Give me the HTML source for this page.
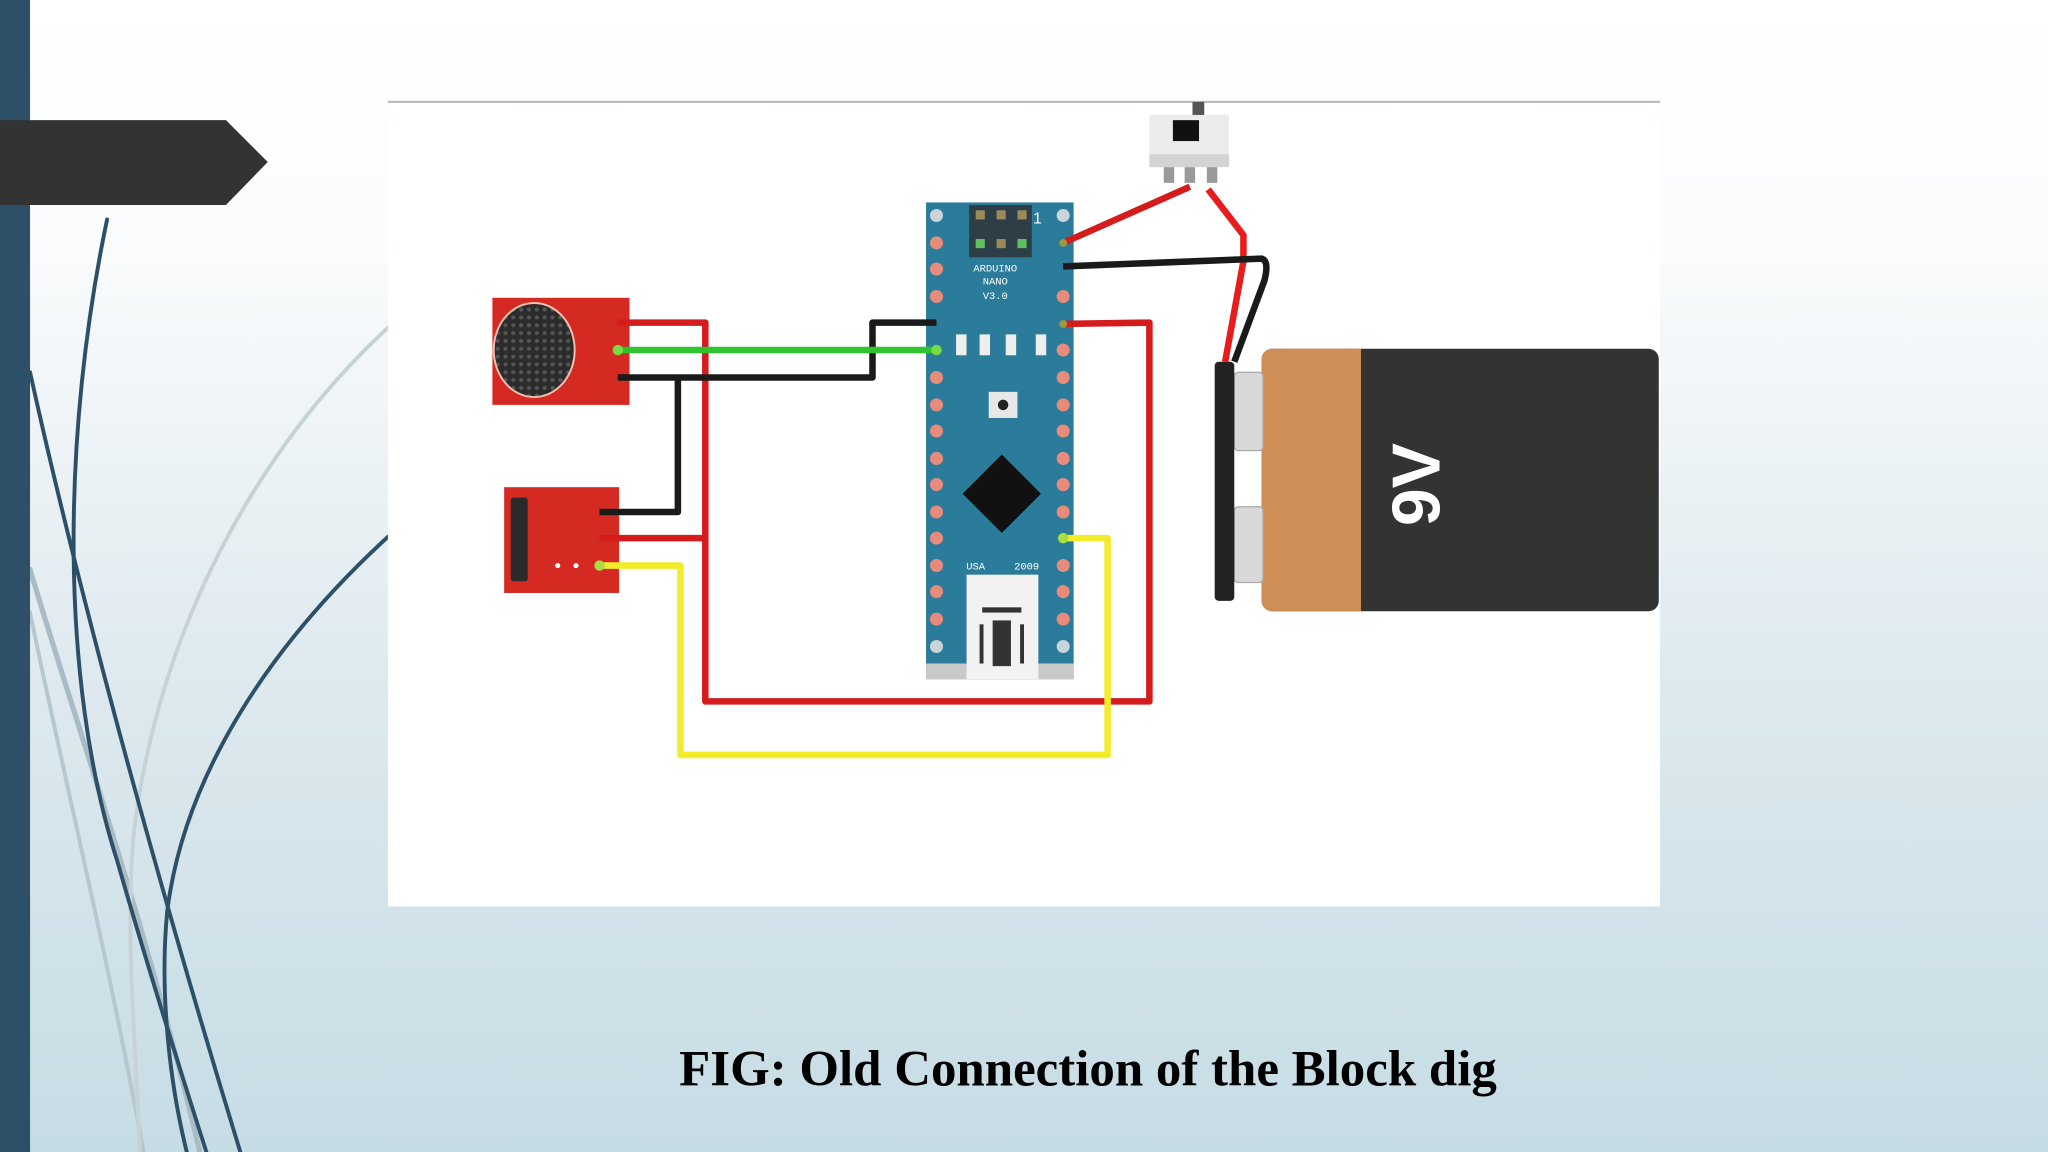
<!DOCTYPE html>
<html><head><meta charset="utf-8"><style>
html,body{margin:0;padding:0;width:2048px;height:1152px;overflow:hidden}
svg{display:block}
</style></head><body>
<svg width="2048" height="1152" viewBox="0 0 1568 882" xmlns="http://www.w3.org/2000/svg">
<defs>
<linearGradient id="bg" x1="0" y1="0" x2="0" y2="1">
<stop offset="0" stop-color="#ffffff"/><stop offset="0.2" stop-color="#fbfcfd"/>
<stop offset="0.6" stop-color="#dde9ee"/><stop offset="1" stop-color="#c6dce5"/></linearGradient>
<pattern id="dots" width="6" height="6" patternUnits="userSpaceOnUse">
<rect width="6" height="6" fill="#2c2c2c"/><circle cx="3" cy="3" r="1.6" fill="#555"/></pattern>
</defs>
<rect width="1568" height="882" fill="url(#bg)"/>
<g fill="none" stroke-linecap="round">
<path d="M23,436 C60,560 110,700 153,882" stroke="#a9bcc5" stroke-width="4"/>
<path d="M23,469 C50,600 80,720 110,882" stroke="#b5c7cf" stroke-width="3"/>
<path d="M297,251 C200,340 120,480 102,642 C96,720 104,800 107,882" stroke="#c7d2d7" stroke-width="3"/>
<path d="M82,168 C48,330 45,520 90,660 C110,730 135,810 158,882" stroke="#2d5068" stroke-width="3"/>
<path d="M23,285 C55,430 110,640 184,882" stroke="#2d5068" stroke-width="3"/>
<path d="M297,411 C200,500 140,600 128,698 C122,760 130,830 143,882" stroke="#2d5068" stroke-width="3"/>
</g>
<rect x="0" y="0" width="23" height="882" fill="#2d5068"/>
<polygon points="0,92 173,92 205,124 173,157 0,157" fill="#333333"/>
<rect x="297" y="78" width="974" height="616" fill="#ffffff"/>
<line x1="297" y1="78" x2="1271" y2="78" stroke="#b8b8b8" stroke-width="1.5"/>
<rect x="913" y="78" width="9" height="14" fill="#555"/>
<rect x="880" y="88" width="61" height="30" fill="#ececec"/>
<rect x="880" y="118" width="61" height="10" fill="#d3d3d3"/>
<rect x="898" y="92" width="20" height="16" fill="#111"/>
<rect x="891" y="128" width="8" height="12" fill="#999"/><rect x="907" y="128" width="8" height="12" fill="#999"/><rect x="924" y="128" width="8" height="12" fill="#999"/>
<rect x="966" y="267" width="304" height="201" rx="8" fill="#333"/>
<rect x="966" y="267" width="76" height="201" rx="8" fill="#cf8e55"/>
<rect x="1030" y="267" width="12" height="201" fill="#cf8e55"/>
<rect x="945" y="285" width="22" height="60" rx="3" fill="#d8d8d8" stroke="#aaa"/>
<rect x="945" y="388" width="22" height="58" rx="3" fill="#d8d8d8" stroke="#aaa"/>
<rect x="930" y="277" width="15" height="183" rx="3" fill="#222"/>
<text x="0" y="0" transform="translate(1102,371) rotate(-90)" text-anchor="middle" font-family="Liberation Sans, sans-serif" font-weight="bold" font-size="52" fill="#fff">9V</text>
<rect x="709" y="155" width="113" height="365" fill="#2b7b9b"/>
<rect x="709" y="508" width="113" height="12" fill="#c9c9c9"/>
<rect x="742" y="157" width="48" height="40" fill="#2e3e46"/>
<g fill="#9b8a5a"><rect x="747" y="161" width="7" height="7"/><rect x="763" y="161" width="7" height="7"/><rect x="779" y="161" width="7" height="7"/><rect x="763" y="183" width="7" height="7"/></g>
<g fill="#5fbf5f"><rect x="747" y="183" width="7" height="7"/><rect x="779" y="183" width="7" height="7"/></g>
<text x="791" y="171" font-family="Liberation Sans, sans-serif" font-size="12" fill="#fff">1</text>
<text x="762" y="208" text-anchor="middle" font-family="Liberation Mono, monospace" font-size="8" fill="#fff">ARDUINO</text>
<text x="762" y="218" text-anchor="middle" font-family="Liberation Mono, monospace" font-size="8" fill="#fff">NANO</text>
<text x="762" y="229" text-anchor="middle" font-family="Liberation Mono, monospace" font-size="8" fill="#fff">V3.0</text>
<g fill="#eee"><rect x="732" y="256" width="8" height="16"/><rect x="750" y="256" width="8" height="16"/><rect x="770" y="256" width="8" height="16"/><rect x="793" y="256" width="8" height="16"/></g>
<text x="747" y="436" text-anchor="middle" font-family="Liberation Mono, monospace" font-size="8" fill="#fff">USA</text>
<text x="786" y="436" text-anchor="middle" font-family="Liberation Mono, monospace" font-size="8" fill="#fff">2009</text>
<rect x="757" y="300" width="22" height="20" fill="#e8e8e8"/><circle cx="768" cy="310" r="4" fill="#222"/>
<polygon points="767,348 797,378 767,408 737,378" fill="#111"/>
<rect x="740" y="440" width="55" height="80" fill="#f2f2f2"/>
<rect x="752" y="465" width="30" height="4" fill="#333"/>
<g fill="#333"><rect x="750" y="478" width="3" height="30"/><rect x="760" y="475" width="14" height="35"/><rect x="781" y="478" width="3" height="30"/></g>
<g fill="#e88b7a">
<circle cx="717" cy="186" r="5"/><circle cx="717" cy="206" r="5"/><circle cx="717" cy="227" r="5"/><circle cx="717" cy="289" r="5"/><circle cx="717" cy="310" r="5"/><circle cx="717" cy="330" r="5"/><circle cx="717" cy="351" r="5"/><circle cx="717" cy="371" r="5"/><circle cx="717" cy="392" r="5"/><circle cx="717" cy="412" r="5"/><circle cx="717" cy="433" r="5"/><circle cx="717" cy="453" r="5"/><circle cx="717" cy="474" r="5"/>
<circle cx="814" cy="227" r="5"/><circle cx="814" cy="268" r="5"/><circle cx="814" cy="289" r="5"/><circle cx="814" cy="310" r="5"/><circle cx="814" cy="330" r="5"/><circle cx="814" cy="351" r="5"/><circle cx="814" cy="371" r="5"/><circle cx="814" cy="392" r="5"/><circle cx="814" cy="433" r="5"/><circle cx="814" cy="453" r="5"/><circle cx="814" cy="474" r="5"/>
</g>
<g fill="#c8d4d8"><circle cx="717" cy="165" r="5"/><circle cx="814" cy="165" r="5"/><circle cx="717" cy="495" r="5"/><circle cx="814" cy="495" r="5"/></g>
<rect x="377" y="228" width="105" height="82" fill="#d42a22"/>
<ellipse cx="409" cy="268" rx="31" ry="36" fill="url(#dots)" stroke="#f0c0b0" stroke-width="1.5"/>
<rect x="386" y="373" width="88" height="81" fill="#d42a22"/>
<rect x="391" y="381" width="13" height="64" rx="2" fill="#2a2a2a"/>
<circle cx="427" cy="433" r="2" fill="#fff"/><circle cx="441" cy="433" r="2" fill="#fff"/>
<g fill="none" stroke-width="5" stroke-linejoin="round">
<polyline points="473,247 540,247 540,537 880,537 880,247 814,248" stroke="#d41c1c"/>
<polyline points="459,412 540,412" stroke="#d41c1c"/>
<polyline points="473,289 668,289 668,247 717,247" stroke="#1a1a1a"/>
<polyline points="519,289 519,392 459,392" stroke="#1a1a1a"/>
<polyline points="473,268 717,268" stroke="#2fc42f"/>
<polyline points="459,433 521,433 521,578 848,578 848,412 814,412" stroke="#f2ec2a"/>
<polyline points="911,143 814,186" stroke="#d41c1c"/>
<path d="M925,145 L952,180 L952,200 L938,277" stroke="#e81c1c"/>
<path d="M814,204 L966,198 Q972,200 968,215 L945,277" stroke="#1a1a1a"/>
</g>
<circle cx="473" cy="268" r="4" fill="#7d4"/><circle cx="717" cy="268" r="4" fill="#7d4"/><circle cx="459" cy="433" r="4" fill="#ad4"/><circle cx="814" cy="412" r="4" fill="#ad4"/><circle cx="814" cy="186" r="3" fill="#994"/><circle cx="814" cy="248" r="3" fill="#994"/>
<text x="833" y="831" text-anchor="middle" font-family="Liberation Serif, serif" font-weight="bold" font-size="39" fill="#000">FIG: Old Connection of the Block dig</text>
</svg>
</body></html>
